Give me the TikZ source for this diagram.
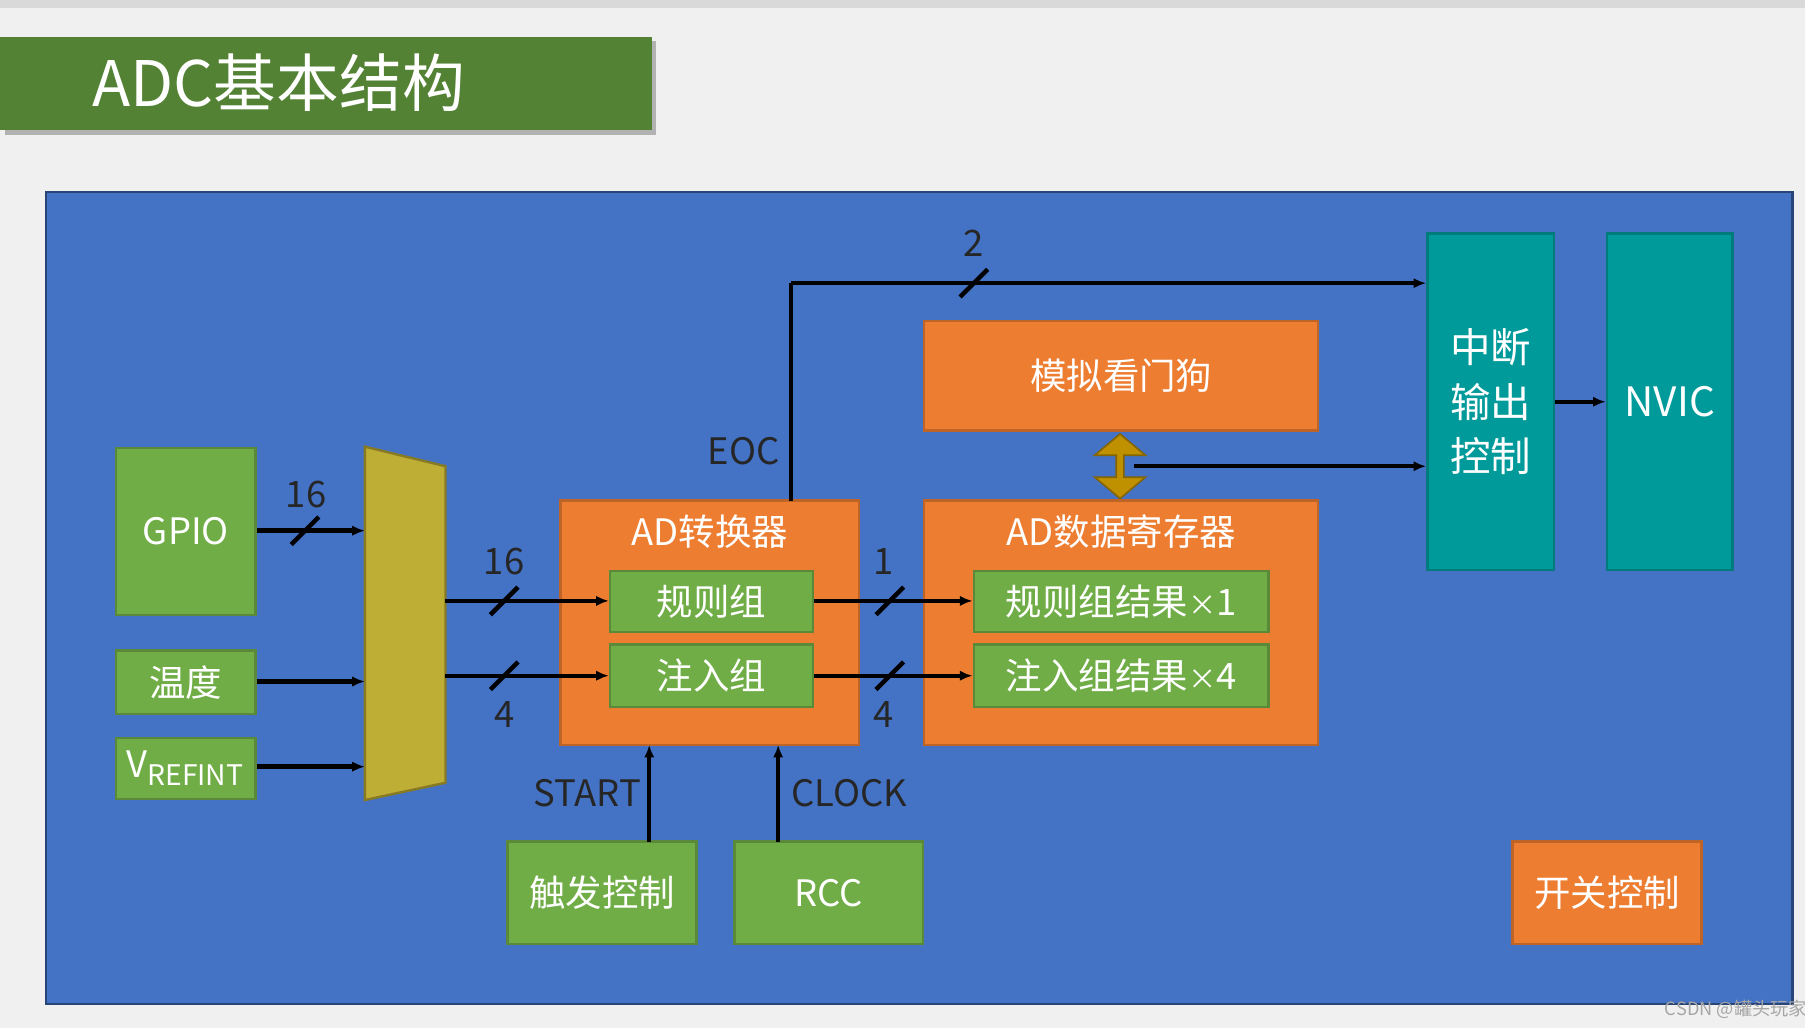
\documentclass[tikz,border=0pt]{standalone}
\usepackage{fontspec}
\setmainfont{Noto Sans CJK SC}[BoldFont={Noto Sans CJK SC}]
\usetikzlibrary{arrows.meta,shapes.arrows}
\definecolor{bg}{HTML}{F0F0F0}
\definecolor{tgreen}{HTML}{548235}
\definecolor{blu}{HTML}{4472C4}
\definecolor{grn}{HTML}{70AD47}
\definecolor{org}{HTML}{ED7D31}
\definecolor{teal2}{HTML}{009A9A}
\definecolor{mux}{HTML}{BFAE35}
\definecolor{gold}{HTML}{BF9000}
\tikzset{
 box/.style={draw=#1!80!black,fill=#1,line width=0.6pt,text=white,inner sep=0pt,font=\fontsize{9}{11}\selectfont},
 arr/.style={line width=1.1pt,-{Latex[length=0.11cm,width=0.09cm]}},
 ln/.style={line width=1.1pt},
 lbl/.style={font=\fontsize{9}{11}\selectfont,text=black!85},
}
\newcommand{\slsh}[2]{\draw[ln] (#1-12,#2+12) -- (#1+12,#2-12);}
\newcommand{\tms}{{\fontsize{7}{8}\selectfont ×}}
\begin{document}
\begin{tikzpicture}[x=0.01cm,y=-0.01cm]
\useasboundingbox (0,0) rectangle (1568,893);
\fill[bg] (0,0) rectangle (1568,893);
\fill[black!15] (0,0) rectangle (1568,7);
% title
\fill[black!30] (4,36) rectangle (570,117);
\fill[tgreen] (0,32) rectangle (566,113);
\node[anchor=west,text=white,font=\fontsize{15.5}{18}\selectfont] (title) at (68,72) {ADC基本结构};
% main panel
\draw[fill=blu,draw=blu!60!black,line width=0.6pt] (40,167) rectangle (1557,872);
% left sources
\node[box=grn,minimum width=1.21cm,minimum height=1.45cm] (gpio) at (161.5,461.5) {GPIO};
\node[box=grn,minimum width=1.21cm,minimum height=0.55cm] (temp) at (161.5,592.5) {温度};
\node[box=grn,minimum width=1.21cm,minimum height=0.53cm] (vref) at (161.5,667.5) {V\textsubscript{\fontsize{7}{8}\selectfont REFINT}};
% mux
\fill[mux,draw=mux!70!black,line width=0.6pt] (317,388) -- (387,405) -- (387,680) -- (317,695) -- cycle;
\coordinate (m1) at (317,461); \coordinate (m2) at (317,592); \coordinate (m3) at (317,666);
\coordinate (o1) at (387,522); \coordinate (o2) at (387,587);
\draw[arr] (gpio.east |- m1) -- (m1);
\draw[arr] (temp.east |- m2) -- (m2);
\draw[arr] (vref.east |- m3) -- (m3);
\slsh{265}{461}\node[lbl] (n16a) at (266,430) {16};
% AD converter
\node[box=org,minimum width=2.59cm,minimum height=2.12cm] (adc) at (616.5,541) {};
\node[text=white,font=\fontsize{9}{11}\selectfont] (adct) at (616.5,462) {AD转换器};
\node[box=grn,minimum width=1.76cm,minimum height=0.53cm] (reg) at (618,522.5) {规则组};
\node[box=grn,minimum width=1.76cm,minimum height=0.54cm] (inj) at (618,587) {注入组};
\draw[arr] (o1) -- (reg.west |- o1);
\draw[arr] (o2) -- (inj.west |- o2);
\slsh{438}{522}\node[lbl] (n16b) at (438,488) {16};
\slsh{438}{587}\node[lbl] (n4a) at (438,621) {4};
% data register
\node[box=org,minimum width=3.42cm,minimum height=2.12cm] (dr) at (974,541) {};
\node[text=white,font=\fontsize{9}{11}\selectfont] (drt) at (974,462) {AD数据寄存器};
\node[box=grn,minimum width=2.56cm,minimum height=0.53cm] (rr) at (974,522.5) {规则组结果\tms 1};
\node[box=grn,minimum width=2.56cm,minimum height=0.54cm] (ir) at (974,587) {注入组结果\tms 4};
\draw[arr] (reg.east |- o1) -- (rr.west |- o1);
\draw[arr] (inj.east |- o2) -- (ir.west |- o2);
\slsh{773}{522}\node[lbl] (n1) at (768,488) {1};
\slsh{773}{587}\node[lbl] (n4b) at (768,621) {4};
% watchdog
\node[box=org,minimum width=3.42cm,minimum height=0.95cm] (wd) at (974,326.5) {模拟看门狗};
\node[double arrow,fill=gold,draw=gold!70!black,line width=0.4pt,rotate=90,minimum width=0.44cm,minimum height=0.56cm,double arrow head extend=0.04cm,inner sep=0pt,double arrow tip angle=100] (dbl) at (973,405) {};
% interrupt & NVIC
\node[box=teal2,minimum width=1.1cm,minimum height=2.92cm,align=center,font=\fontsize{10}{13.5}\selectfont] (irq) at (1295,349) {中断\\输出\\控制};
\node[box=teal2,minimum width=1.09cm,minimum height=2.92cm,font=\fontsize{10}{12}\selectfont] (nvic) at (1450.5,349) {NVIC};
\draw[arr] (irq.east) -- (nvic.west);
\coordinate (wdo) at (985,405);
\draw[arr] (wdo) -- (irq.west |- wdo);
% EOC
\coordinate (eoc) at (687,435);
\coordinate (eocc) at (687,246);
\draw[ln] (eoc) -- (eocc);
\draw[arr] (eocc) -- (irq.west |- eocc);
\node[lbl] (eocl) at (646,392) {EOC};
\slsh{846}{246}\node[lbl] (n2) at (846,211) {2};
% trigger & RCC
\node[box=grn,minimum width=1.64cm,minimum height=0.89cm] (trig) at (523,775.5) {触发控制};
\node[box=grn,minimum width=1.64cm,minimum height=0.89cm] (rcc) at (720,775.5) {RCC};
\draw[arr] (564,731) -- (564,647);
\draw[arr] (676,731) -- (676,647);
\node[lbl] (start) at (510,689) {START};
\node[lbl] (clock) at (738,689) {CLOCK};
\node[box=org,minimum width=1.64cm,minimum height=0.89cm] (sw) at (1396,775.5) {开关控制};
\node[text=black!35,font=\fontsize{4.5}{5}\selectfont] (wm) at (1508,877) {CSDN @罐头玩家};
\end{tikzpicture}
\end{document}
